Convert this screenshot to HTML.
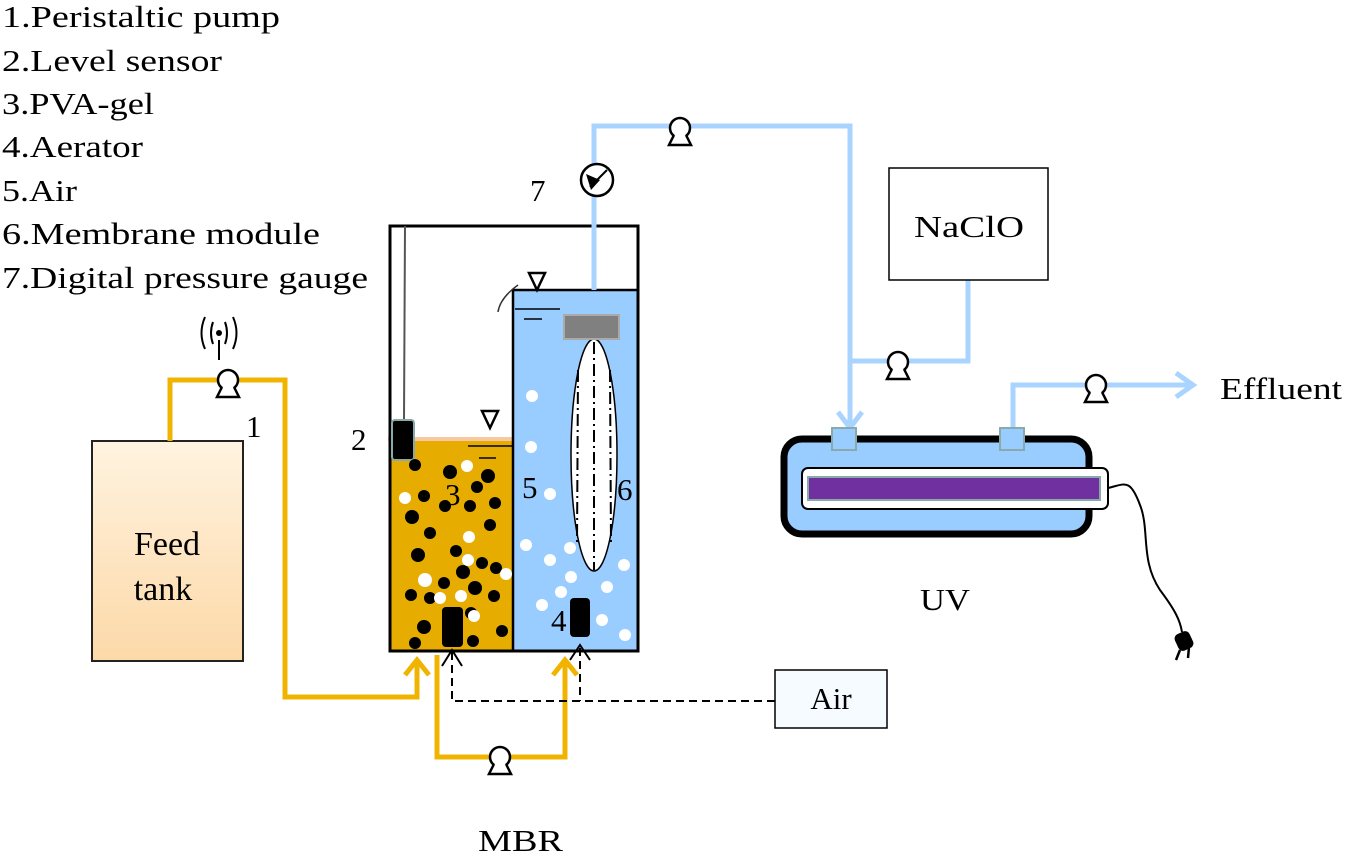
<!DOCTYPE html>
<html><head><meta charset="utf-8"><style>
body{margin:0;background:#fff}
svg{display:block}
text{font-family:"Liberation Serif",serif;fill:#000}
</style></head><body>
<svg width="1346" height="857" viewBox="0 0 1346 857" xmlns="http://www.w3.org/2000/svg">
<defs>
<linearGradient id="ft" x1="0" y1="0" x2="0" y2="1"><stop offset="0" stop-color="#fff3e0"/><stop offset="1" stop-color="#fcd9a8"/></linearGradient>
<g id="pump"><circle cx="0" cy="0" r="10" fill="#fff" stroke="#000" stroke-width="2.5"/><path d="M-6 7 L-11 17 L11 17 L6 7" fill="#fff" stroke="#000" stroke-width="2.5"/></g>
</defs>
<!-- legend -->
<g font-size="31">
<text x="2" y="27" textLength="278" lengthAdjust="spacingAndGlyphs">1.Peristaltic  pump</text>
<text x="2" y="71" textLength="220" lengthAdjust="spacingAndGlyphs">2.Level  sensor</text>
<text x="2" y="114" textLength="152" lengthAdjust="spacingAndGlyphs">3.PVA-gel</text>
<text x="2" y="157" textLength="141" lengthAdjust="spacingAndGlyphs">4.Aerator</text>
<text x="2" y="201" textLength="75" lengthAdjust="spacingAndGlyphs">5.Air</text>
<text x="2" y="244" textLength="318" lengthAdjust="spacingAndGlyphs">6.Membrane module</text>
<text x="2" y="288" textLength="366" lengthAdjust="spacingAndGlyphs">7.Digital  pressure gauge</text>
</g>
<!-- feed tank -->
<rect x="92" y="441" width="151" height="220" fill="url(#ft)" stroke="#222" stroke-width="2"/>
<text x="167" y="555" font-size="34" text-anchor="middle">Feed</text>
<text x="163" y="600" font-size="34" text-anchor="middle">tank</text>
<!-- orange pipes -->
<g fill="none" stroke="#f0b400" stroke-width="5">
<path d="M170 441 V380 H285 V697 H417 V660"/>
<path d="M405 675 L417 660 L429 675"/>
<path d="M437 655 V757 H565 V660"/>
<path d="M553 675 L565 660 L577 675"/>
</g>
<use href="#pump" x="228" y="380"/>
<use href="#pump" x="500" y="757"/>
<!-- antenna -->
<g fill="none" stroke="#000" stroke-width="2">
<line x1="219" y1="340" x2="219" y2="360"/>
<path d="M213 322 Q209 333 213 344"/><path d="M225 322 Q229 333 225 344"/>
<path d="M205 317 Q198 333 205 349"/><path d="M233 317 Q240 333 233 349"/>
</g>
<circle cx="219" cy="333" r="3" fill="#000"/>
<text x="246" y="437" font-size="31">1</text>
<!-- MBR -->
<rect x="390" y="440" width="123" height="211" fill="#e6ac00"/>
<rect x="388" y="437" width="125" height="4" fill="#f8c8a0"/>
<rect x="513" y="290" width="125" height="361" fill="#99ccff"/>
<rect x="390" y="226" width="248" height="425" fill="none" stroke="#000" stroke-width="3"/>
<line x1="513" y1="290" x2="513" y2="651" stroke="#000" stroke-width="2.5"/>
<line x1="513" y1="290" x2="638" y2="290" stroke="#000" stroke-width="2.5"/>
<line x1="405" y1="226" x2="404" y2="420" stroke="#555" stroke-width="2"/>
<rect x="392" y="420" width="22" height="40" rx="3" fill="#000" stroke="#8aa" stroke-width="2"/>
<text x="351" y="450" font-size="31">2</text>
<!-- level markers -->
<path d="M482 411 L498 411 L490 428 Z" fill="#fff" stroke="#000" stroke-width="2.5"/>
<line x1="468" y1="446" x2="512" y2="446" stroke="#000" stroke-width="1.5"/><line x1="479" y1="458" x2="496" y2="458" stroke="#000" stroke-width="1.5"/>
<path d="M529 273 L545 273 L537 290 Z" fill="#fff" stroke="#000" stroke-width="2.5"/>
<line x1="515" y1="309" x2="560" y2="309" stroke="#000" stroke-width="1.5"/><line x1="524" y1="319" x2="542" y2="319" stroke="#000" stroke-width="1.5"/>
<path d="M498 312 Q500 298 518 285" fill="none" stroke="#333" stroke-width="1.5"/>
<!-- particles -->
<g fill="#000">
<circle cx="415" cy="465" r="6"/><circle cx="450" cy="472" r="7"/><circle cx="488" cy="476" r="7"/><circle cx="477" cy="487" r="6"/><circle cx="424" cy="496" r="6"/><circle cx="445" cy="506" r="6"/><circle cx="470" cy="506" r="6"/><circle cx="495" cy="503" r="6"/>
<circle cx="412" cy="517" r="7"/><circle cx="490" cy="525" r="6"/><circle cx="430" cy="533" r="6"/><circle cx="418" cy="555" r="7"/><circle cx="456" cy="551" r="6"/><circle cx="482" cy="563" r="6"/><circle cx="463" cy="572" r="7"/><circle cx="496" cy="568" r="6"/>
<circle cx="444" cy="583" r="6"/><circle cx="475" cy="588" r="7"/><circle cx="411" cy="595" r="6"/><circle cx="430" cy="598" r="6"/><circle cx="494" cy="596" r="6"/><circle cx="471" cy="613" r="6"/><circle cx="424" cy="627" r="7"/><circle cx="502" cy="631" r="6"/><circle cx="415" cy="643" r="6"/><circle cx="473" cy="641" r="6"/>
</g>
<g fill="#fff">
<circle cx="467" cy="466" r="6"/><circle cx="405" cy="498" r="6"/><circle cx="469" cy="537" r="6"/><circle cx="468" cy="560" r="6"/><circle cx="506" cy="574" r="6"/><circle cx="425" cy="580" r="7"/><circle cx="440" cy="598" r="6"/><circle cx="461" cy="596" r="6"/><circle cx="474" cy="616" r="6"/>
<circle cx="532" cy="396" r="6"/><circle cx="531" cy="447" r="6"/><circle cx="550" cy="494" r="6"/><circle cx="526" cy="545" r="6"/><circle cx="550" cy="560" r="6"/><circle cx="570" cy="548" r="6"/><circle cx="600" cy="548" r="6"/><circle cx="571" cy="577" r="6"/><circle cx="561" cy="592" r="6"/><circle cx="542" cy="605" r="6"/><circle cx="607" cy="587" r="6"/><circle cx="624" cy="565" r="6"/><circle cx="602" cy="620" r="6"/><circle cx="625" cy="635" r="6"/>
</g>
<text x="445" y="505" font-size="31">3</text>
<text x="522" y="498" font-size="31">5</text>
<text x="617" y="500" font-size="31">6</text>
<text x="551" y="631" font-size="31">4</text>
<!-- membrane -->
<ellipse cx="594" cy="455" rx="23" ry="116" fill="#fff" stroke="#000" stroke-width="1.5"/>
<g stroke="#000" stroke-width="2" stroke-dasharray="12 4 2 4">
<line x1="594" y1="342" x2="594" y2="570"/><line x1="578" y1="370" x2="577" y2="545"/><line x1="610" y1="370" x2="611" y2="545"/>
</g>
<rect x="564" y="315" width="55" height="24" fill="#808080" stroke="#aaa" stroke-width="2"/>
<!-- aerators -->
<rect x="442" y="607" width="21" height="40" rx="4" fill="#000"/>
<rect x="570" y="598" width="20" height="39" rx="4" fill="#000"/>
<g fill="none" stroke="#000" stroke-width="2">
<path d="M442 666 L452 650 L462 666"/><path d="M570 660 L580 645 L590 660"/>
</g>
<!-- air dashed -->
<path d="M452 652 V701 H775 M580 648 V701" fill="none" stroke="#000" stroke-width="2" stroke-dasharray="8 5"/>
<rect x="775" y="670" width="112" height="58" fill="#f5fbff" stroke="#000" stroke-width="1.5"/>
<text x="831" y="709" font-size="31" text-anchor="middle">Air</text>
<text x="478" y="851" font-size="31" textLength="85" lengthAdjust="spacingAndGlyphs">MBR</text>
<!-- blue pipes -->
<g fill="none" stroke="#a8d4ff" stroke-width="5">
<path d="M594 290 V126 H850 V428"/>
<path d="M838 412 L850 428 L862 412"/>
<path d="M968 280 V361 H850"/>
<path d="M1013 432 V385 H1192"/>
<path d="M1176 373 L1193 385 L1176 397"/>
</g>
<use href="#pump" x="680" y="128"/>
<use href="#pump" x="898" y="362"/>
<use href="#pump" x="1096" y="385"/>
<circle cx="597" cy="180" r="16" fill="#fff" stroke="#000" stroke-width="2.5"/>
<path d="M607 170 L590 187" stroke="#000" stroke-width="2"/><path d="M586 174 L600 180 L591 190 Z" fill="#000"/>
<text x="530" y="201" font-size="31">7</text>
<rect x="889" y="168" width="159" height="112" fill="#fff" stroke="#000" stroke-width="1.5"/>
<text x="914" y="237" font-size="31" textLength="110" lengthAdjust="spacingAndGlyphs">NaClO</text>
<text x="1220" y="399" font-size="31" textLength="122" lengthAdjust="spacingAndGlyphs">Effluent</text>
<!-- UV -->
<rect x="784" y="439" width="305" height="95" rx="18" fill="#99ccff" stroke="#000" stroke-width="7"/>
<rect x="832" y="428" width="24" height="22" fill="#99ccff" stroke="#8aa" stroke-width="2"/>
<rect x="1000" y="428" width="24" height="22" fill="#99ccff" stroke="#8aa" stroke-width="2"/>
<rect x="802" y="468" width="306" height="41" rx="6" fill="#fff" stroke="#000" stroke-width="2"/>
<rect x="808" y="477" width="292" height="23" fill="#7030a0" stroke="#8aa" stroke-width="2"/>
<path d="M1108 488 C1125 484 1130 478 1140 505 C1150 530 1140 560 1160 590 C1175 610 1180 620 1182 632" fill="none" stroke="#000" stroke-width="2"/>
<rect x="1176" y="632" width="16" height="18" rx="5" fill="#000" transform="rotate(-25 1184 641)"/>
<path d="M1180 650 L1176 660 M1189 647 L1188 658" stroke="#000" stroke-width="2.5"/>
<text x="920" y="610" font-size="31" textLength="50" lengthAdjust="spacingAndGlyphs">UV</text>
</svg>
</body></html>
